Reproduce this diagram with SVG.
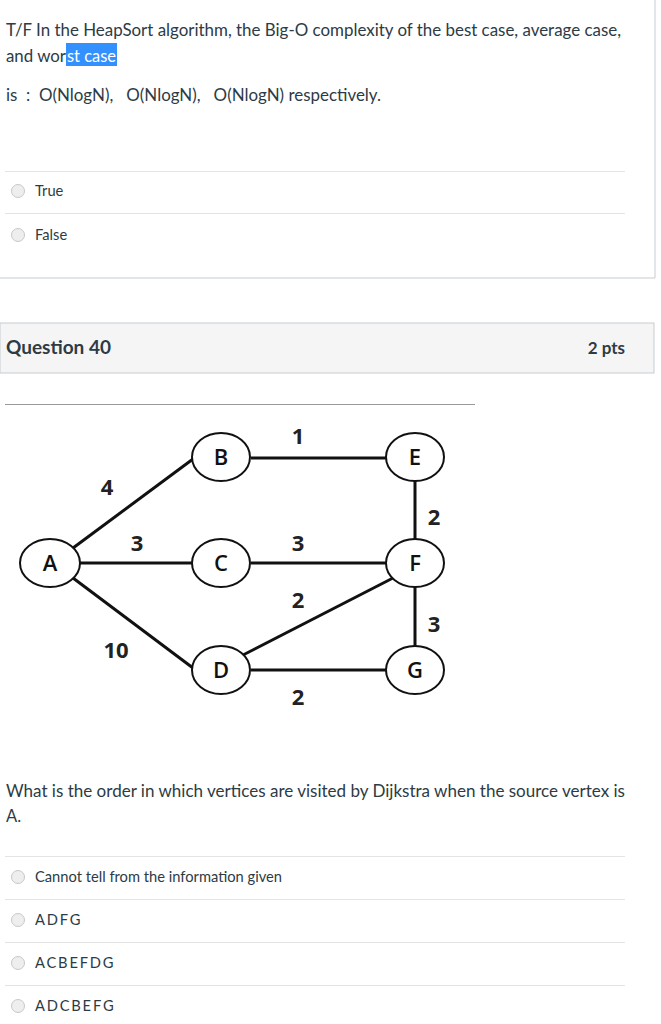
<svg xmlns="http://www.w3.org/2000/svg" width="661" height="1024" viewBox="0 0 661 1024">
<style>
.t{font-family:Lato,"Liberation Sans",sans-serif;font-size:16.5px;fill:#2d3b45}
.o{font-family:Lato,"Liberation Sans",sans-serif;font-size:14.7px;fill:#2d3b45}
.sep{stroke:#e4e4e4;stroke-width:1}
.rb{fill:#eee;stroke:#c8c8c8;stroke-width:1}
.n ellipse{fill:#fff;stroke:#111;stroke-width:2}
.n text{font-family:"Open Sans","DejaVu Sans",sans-serif;font-size:22px;font-weight:600;fill:#111;text-anchor:middle}
.e line{stroke:#111;stroke-width:3}
.w{font-family:"Open Sans","DejaVu Sans",sans-serif;font-size:22px;font-weight:bold;fill:#222;text-anchor:middle}
</style>
<rect width="661" height="1024" fill="#fff"/>
<path d="M655 0V278H0" fill="none" stroke="#c7cdd1"/>
<text class="t" x="6" y="36" textLength="615" lengthAdjust="spacingAndGlyphs">T/F In the HeapSort algorithm, the Big-O complexity of the best case, average case,</text>
<rect x="66" y="43" width="51" height="23" fill="#3390ff"/>
<text class="t" x="6" y="62" textLength="60" lengthAdjust="spacingAndGlyphs">and wor</text>
<text class="t" x="67" y="62" textLength="49" lengthAdjust="spacingAndGlyphs" style="fill:#fff">st case</text>
<text class="t" x="6" y="101" xml:space="preserve" textLength="375" lengthAdjust="spacingAndGlyphs">is  :  O(NlogN),   O(NlogN),   O(NlogN) respectively.</text>
<line class="sep" x1="5" y1="171.5" x2="625" y2="171.5"/>
<line class="sep" x1="5" y1="213.5" x2="625" y2="213.5"/>
<circle class="rb" cx="18" cy="191" r="6.5"/><text class="o" x="35" y="196">True</text>
<circle class="rb" cx="18" cy="235" r="6.5"/><text class="o" x="35" y="240">False</text>
<rect x="0" y="323" width="654" height="50" fill="#f5f5f5" stroke="#c7cdd1"/>
<text x="6" y="354" font-family="Lato,'Liberation Sans',sans-serif" font-size="19" font-weight="bold" fill="#2d3b45">Question 40</text>
<text x="625" y="354" text-anchor="end" font-family="Lato,'Liberation Sans',sans-serif" font-size="17" font-weight="bold" fill="#2d3b45">2 pts</text>
<line x1="5" y1="404.5" x2="475" y2="404.5" stroke="#999" stroke-width="1"/>
<g class="e" id="edges">
<line x1="73" y1="548" x2="193" y2="459"/>
<line x1="80" y1="563" x2="192" y2="563"/>
<line x1="73" y1="578" x2="193" y2="668"/>
<line x1="251" y1="458" x2="386" y2="458"/>
<line x1="415" y1="481" x2="415" y2="540"/>
<line x1="251" y1="563" x2="386" y2="563"/>
<line x1="243" y1="655" x2="393" y2="578"/>
<line x1="251" y1="670" x2="386" y2="670"/>
<line x1="415" y1="586" x2="415" y2="647"/>
</g>
<g class="w">
<text x="107" y="495">4</text><text x="137" y="551">3</text><text x="116" y="658">10</text>
<text x="298" y="444">1</text><text x="298" y="551">3</text><text x="298" y="608">2</text>
<text x="298" y="705">2</text><text x="434" y="525">2</text><text x="434" y="632">3</text>
</g>
<g class="n" id="A"><ellipse cx="50" cy="563" rx="30" ry="24"/><text x="50" y="571">A</text></g>
<g class="n" id="B"><ellipse cx="221" cy="457" rx="29" ry="24"/><text x="221" y="465">B</text></g>
<g class="n" id="C"><ellipse cx="221" cy="563" rx="29" ry="24"/><text x="221" y="571">C</text></g>
<g class="n" id="D"><ellipse cx="221" cy="670" rx="29" ry="24"/><text x="221" y="678">D</text></g>
<g class="n" id="E"><ellipse cx="415" cy="457" rx="29" ry="24"/><text x="415" y="465">E</text></g>
<g class="n" id="F"><ellipse cx="415" cy="563" rx="29" ry="24"/><text x="415" y="571">F</text></g>
<g class="n" id="G"><ellipse cx="415" cy="670" rx="29" ry="24"/><text x="415" y="678">G</text></g>
<text class="t" x="6" y="797" textLength="619" lengthAdjust="spacingAndGlyphs">What is the order in which vertices are visited by Dijkstra when the source vertex is</text>
<text class="t" x="6" y="822">A.</text>
<line class="sep" x1="5" y1="856.5" x2="625" y2="856.5"/>
<line class="sep" x1="5" y1="899.5" x2="625" y2="899.5"/>
<line class="sep" x1="5" y1="942.5" x2="625" y2="942.5"/>
<line class="sep" x1="5" y1="985.5" x2="625" y2="985.5"/>
<circle class="rb" cx="18" cy="877" r="6.5"/><text class="o" x="35" y="882">Cannot tell from the information given</text>
<circle class="rb" cx="18" cy="920" r="6.5"/><text class="o" x="35" y="925" letter-spacing="1.8">ADFG</text>
<circle class="rb" cx="18" cy="963" r="6.5"/><text class="o" x="35" y="968" letter-spacing="1.8">ACBEFDG</text>
<circle class="rb" cx="18" cy="1006" r="6.5"/><text class="o" x="35" y="1011" letter-spacing="1.8">ADCBEFG</text>
</svg>
